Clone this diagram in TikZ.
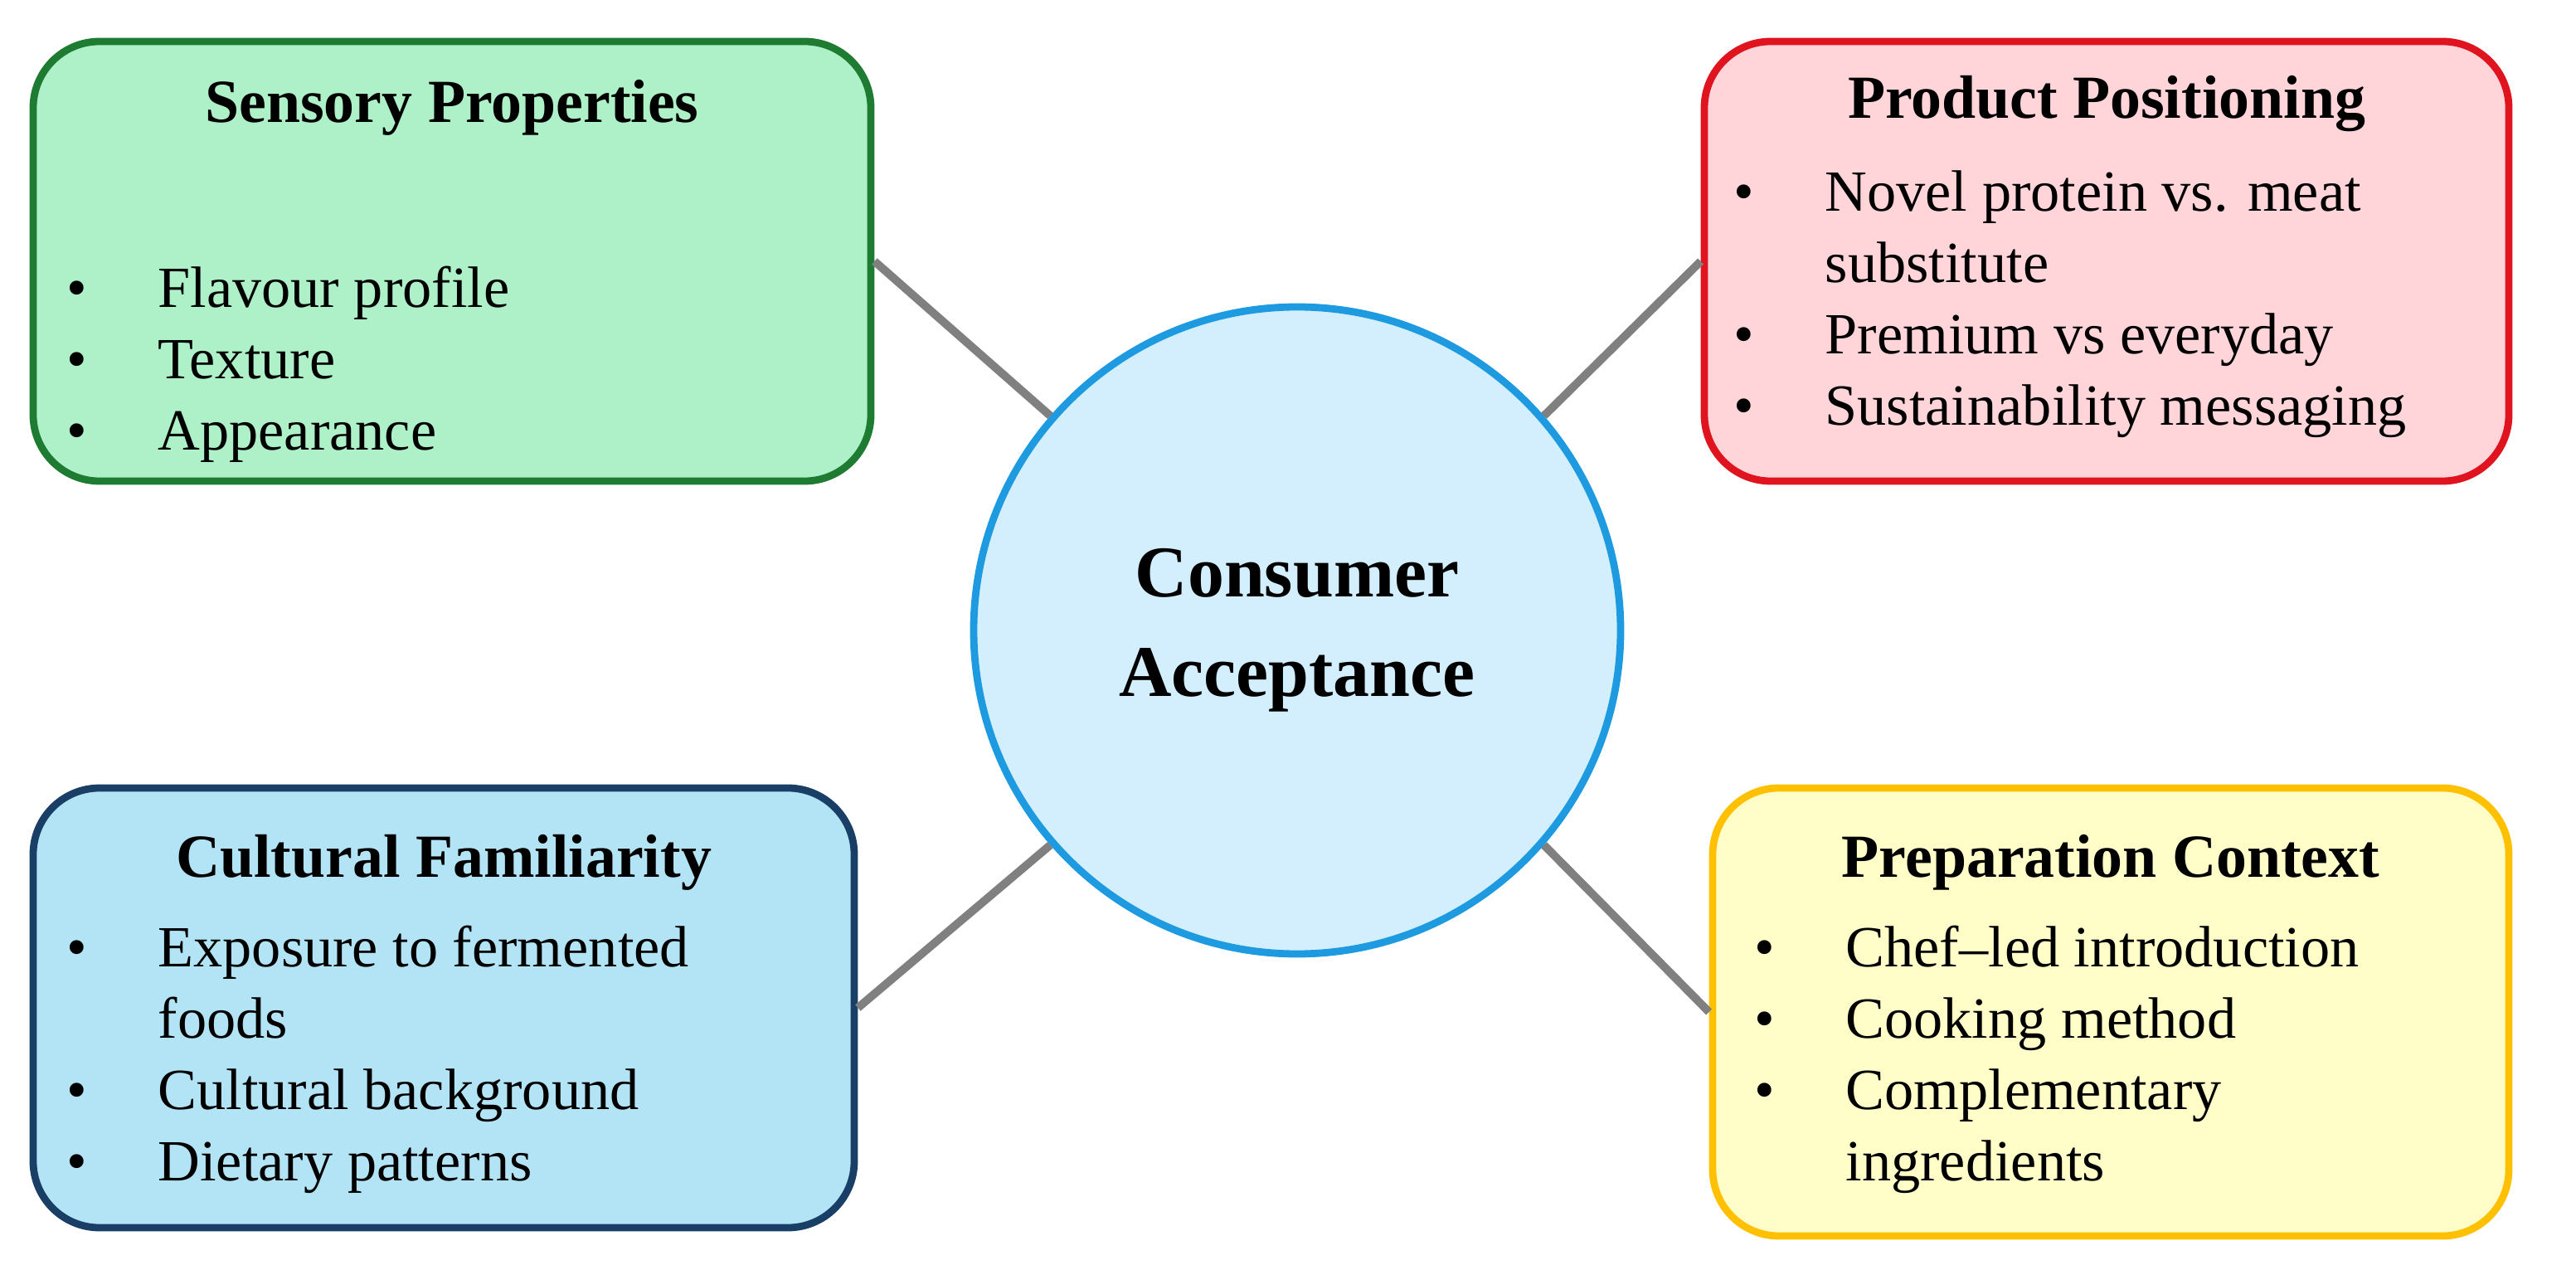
\documentclass[tikz,border=0pt]{standalone}
\usepackage{fontspec}
\setmainfont{Liberation Serif}
\usetikzlibrary{shapes.geometric, positioning}
\definecolor{sensfill}{HTML}{AEF0C8}\definecolor{sensdraw}{HTML}{1E7B32}
\definecolor{prodfill}{HTML}{FFD5DA}\definecolor{proddraw}{HTML}{E0141E}
\definecolor{cultfill}{HTML}{B3E4F5}\definecolor{cultdraw}{HTML}{1A3F66}
\definecolor{prepfill}{HTML}{FFFDC8}\definecolor{prepdraw}{HTML}{FFC000}
\definecolor{consfill}{HTML}{D3EEFC}\definecolor{consdraw}{HTML}{1E9BE0}
\newcommand{\bul}{\makebox[1.1cm][l]{\textbullet}}
\newcommand{\cont}{\hspace*{1.1cm}}
\tikzset{
    box/.style={rectangle, rounded corners=0.8cm, line width=2.5pt, minimum width=#1},
    title/.style={font=\fontsize{21}{25}\selectfont\bfseries, anchor=center},
    items/.style={font=\fontsize{20}{24.5}\selectfont, align=left, anchor=north west, inner sep=0pt},
    link/.style={line width=2.8pt, color=black!50}
}
\begin{document}
\begin{tikzpicture}
        \useasboundingbox (0,0) rectangle (31.06,-15.25);
        % factor boxes
        \node (sens) [box=10.1cm, minimum height=5.3cm, draw=sensdraw, fill=sensfill] at (5.45,-3.15) {};
        \node (prod) [box=9.7cm, minimum height=5.3cm, draw=proddraw, fill=prodfill] at (25.4,-3.15) {};
        \node (cult) [box=9.9cm, minimum height=5.3cm, draw=cultdraw, fill=cultfill] at (5.35,-12.15) {};
        \node (prep) [box=9.6cm, minimum height=5.4cm, draw=prepdraw, fill=prepfill] at (25.45,-12.2) {};

        % centre
        \node (cons) [ellipse, line width=2.5pt, draw=consdraw, fill=consfill, minimum width=7.8cm, minimum height=7.8cm,
            font=\fontsize{25}{34}\selectfont\bfseries, align=center] at (15.64,-7.6) {Consumer\\Acceptance};

        \draw [link] (sens.east) -- (cons.139);
        \draw [link] (prod.west) -- (cons.41);
        \draw [link] (cult.east) -- (cons.221);
        \draw [link] (prep.west) -- (cons.319);

        % texts
        \node (senst) [title] at (sens.center |- 0,-1.3) {Sensory Properties};
        \node (sensl) [items] at (0.8,-3.2) {\bul Flavour profile\\ \bul Texture\\ \bul Appearance};
        \node (prodt) [title] at (prod.center |- 0,-1.25) {Product Positioning};
        \node (prodl) [items] at (20.9,-2.05) {\bul Novel protein vs. meat\\ \cont substitute\\ \bul Premium vs everyday\\ \bul Sustainability messaging};
        \node (cultt) [title] at (cult.center |- 0,-10.4) {Cultural Familiarity};
        \node (cultl) [items] at (0.8,-11.15) {\bul Exposure to fermented\\ \cont foods\\ \bul Cultural background\\ \bul Dietary patterns};
        \node (prept) [title] at (prep.center |- 0,-10.4) {Preparation Context};
        \node (prepl) [items] at (21.15,-11.15) {\bul Chef–led introduction\\ \bul Cooking method\\ \bul Complementary\\ \cont ingredients};
\end{tikzpicture}
\end{document}
